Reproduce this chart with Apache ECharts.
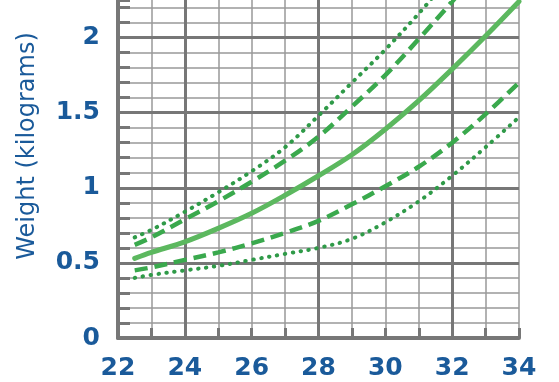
<!DOCTYPE html>
<html>
<head>
<meta charset="utf-8">
<script src="https://cdn.jsdelivr.net/npm/echarts@6/dist/echarts.min.js"></script>
<style>
html,body{margin:0;padding:0;background:#fff;}
#c{width:559px;height:382px;}
</style>
</head>
<body>
<div id="c"></div>
<script>
// Gestational age (weeks)
const ages = [22.5, 23, 24, 25, 26, 27, 28, 29, 30, 31, 32, 33, 34];
// Weight percentiles (kg)
const p97 = [0.67, 0.72, 0.84, 0.97, 1.11, 1.27, 1.48, 1.70, 1.92, 2.16, 2.42, null, null];
const p90 = [0.62, 0.67, 0.79, 0.91, 1.04, 1.18, 1.34, 1.54, 1.75, 1.99, 2.24, 2.50, null];
const p50 = [0.53, 0.57, 0.64, 0.73, 0.83, 0.95, 1.08, 1.22, 1.39, 1.58, 1.79, 2.01, 2.24];
const p10 = [0.45, 0.47, 0.52, 0.57, 0.63, 0.70, 0.78, 0.89, 1.01, 1.14, 1.30, 1.49, 1.70];
const p3  = [0.40, 0.42, 0.45, 0.48, 0.52, 0.56, 0.60, 0.66, 0.77, 0.91, 1.08, 1.27, 1.47];
// Axis ticks
const xMin = 22, xMax = 34;
const yMin = 0, yMax = 2.25;
const majorX = [24, 28, 32];
const majorY = [0.5, 1, 1.5, 2];
const yTitle = 'Weight (kilograms)';

const labelColor = '#1a5a9a';
const gridThin = '#999999';
const gridThick = '#777777';
const font = 'DejaVu Sans';

function pairs(ys) {
  return ages.map((a, i) => ys[i] == null ? null : [a, ys[i]]).filter(d => d);
}

function curve(name, ys, color, width, type, cap) {
  return {
    name: name, type: 'line', data: pairs(ys), smooth: 0.35, symbol: 'none', z: 10,
    clip: true,
    lineStyle: { color: color, width: width, type: type, cap: cap }
  };
}

const chart = echarts.init(document.getElementById('c'), null, { renderer: 'canvas' });
chart.setOption({
  animation: false,
  backgroundColor: '#fff',
  grid: { left: 118, right: 40, top: 0, bottom: 44, containLabel: false },
  xAxis: {
    type: 'value', min: xMin, max: xMax, interval: 1,
    axisLine: { show: true, onZero: false, lineStyle: { color: gridThick, width: 4 } },
    axisTick: { show: true, inside: true, length: 10, lineStyle: { color: gridThick, width: 3 } },
    splitLine: { show: true, lineStyle: { color: gridThin, width: 1.5 } },
    axisLabel: {
      margin: 18, color: labelColor, fontFamily: font, fontWeight: 'bold', fontSize: 25,
      formatter: v => (Math.round(v) % 2 === 0 ? String(Math.round(v)) : '')
    }
  },
  yAxis: {
    type: 'value', min: yMin, max: yMax, interval: 0.1,
    name: yTitle, nameLocation: 'middle', nameRotate: 90, nameGap: 78,
    nameTextStyle: { color: labelColor, fontFamily: font, fontSize: 24, padding: [0, 0, 0, 46] },
    axisLine: { show: true, onZero: false, lineStyle: { color: gridThick, width: 4 } },
    axisTick: { show: true, inside: true, length: 12, lineStyle: { color: gridThick, width: 3 } },
    splitLine: { show: true, showMaxLine: false, lineStyle: { color: gridThin, width: 1.5 } },
    axisLabel: {
      margin: 18, color: labelColor, fontFamily: font, fontWeight: 'bold', fontSize: 25,
      formatter: v => {
        const d = v * 2;
        if (Math.abs(d - Math.round(d)) > 1e-6) return '';
        return String(+v.toFixed(1));
      }
    }
  },
  series: [
    {
      type: 'line', data: [], z: 1, silent: true,
      markLine: {
        silent: true, symbol: 'none', z: 1, animation: false,
        label: { show: false },
        lineStyle: { color: gridThick, width: 3, type: 'solid' },
        emphasis: { disabled: true },
        data: majorX.map(v => ({ xAxis: v })).concat(majorY.map(v => ({ yAxis: v })))
      }
    },
    curve('97th', p97, '#2f9a48', 4, [0.5, 7.5], 'round'),
    curve('90th', p90, '#3aa94d', 4.5, [13, 7], 'butt'),
    curve('50th', p50, '#5cb85f', 5, 'solid', 'round'),
    curve('10th', p10, '#3aa94d', 4.5, [13, 7], 'butt'),
    curve('3rd', p3, '#2f9a48', 4, [0.5, 7.5], 'round')
  ]
});
</script>
</body>
</html>
